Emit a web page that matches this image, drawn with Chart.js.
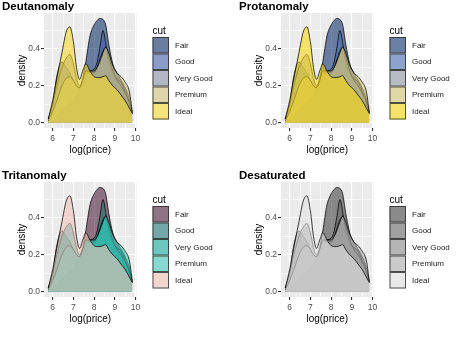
<!DOCTYPE html>
<html>
<head>
<meta charset="utf-8">
<script src="https://cdn.jsdelivr.net/npm/chart.js@4/dist/chart.umd.min.js"></script>
<style>
  html, body { margin: 0; padding: 0; background: #ffffff; }
  #grade { display: grid; grid-template-columns: 237px 237px; grid-template-rows: 169px 169px; width: 474px; height: 338px; }
  canvas { display: block; }
</style>
</head>
<body>
<div id="grade">
  <div><canvas id="g0" width="237" height="169"></canvas></div>
  <div><canvas id="g1" width="237" height="169"></canvas></div>
  <div><canvas id="g2" width="237" height="169"></canvas></div>
  <div><canvas id="g3" width="237" height="169"></canvas></div>
</div>
<script>
// dados (densidade de log(price) por cut)
const logPreco = [5.79, 6.0, 6.2, 6.45, 6.65, 6.83, 7.0, 7.15, 7.3, 7.45, 7.6, 7.8, 8.0, 8.15, 8.27, 8.43, 8.56, 8.7, 8.9, 9.1, 9.3, 9.5, 9.7, 9.84];
const cortes = ['Fair', 'Good', 'Very Good', 'Premium', 'Ideal'];
const densFair      = [0.00, 0.02, 0.04, 0.07, 0.09, 0.11, 0.13, 0.15, 0.18, 0.24, 0.33, 0.47, 0.53, 0.555, 0.565, 0.56, 0.53, 0.43, 0.32, 0.27, 0.23, 0.19, 0.13, 0.05];
const densGood      = [0.02, 0.10, 0.25, 0.33, 0.30, 0.27, 0.23, 0.20, 0.19, 0.21, 0.25, 0.28, 0.29, 0.33, 0.40, 0.50, 0.43, 0.33, 0.27, 0.24, 0.22, 0.17, 0.11, 0.06];
const densVeryGood  = [0.02, 0.10, 0.20, 0.30, 0.35, 0.37, 0.32, 0.24, 0.20, 0.23, 0.27, 0.27, 0.27, 0.30, 0.34, 0.39, 0.41, 0.36, 0.28, 0.23, 0.20, 0.16, 0.11, 0.05];
const densPremium   = [0.01, 0.06, 0.12, 0.20, 0.24, 0.25, 0.23, 0.20, 0.19, 0.23, 0.28, 0.28, 0.28, 0.30, 0.33, 0.38, 0.41, 0.38, 0.31, 0.27, 0.25, 0.22, 0.17, 0.06];
const densIdeal     = [0.02, 0.12, 0.24, 0.38, 0.49, 0.52, 0.44, 0.30, 0.235, 0.28, 0.32, 0.28, 0.25, 0.245, 0.245, 0.25, 0.255, 0.23, 0.20, 0.18, 0.15, 0.12, 0.08, 0.05];
const densidades = [densFair, densGood, densVeryGood, densPremium, densIdeal];

const ticksX = [6, 6.5, 7, 7.5, 8, 8.5, 9, 9.5, 10];
const ticksY = [0, 0.1, 0.2, 0.3, 0.4, 0.5];
const titulos = ['Deutanomaly', 'Protanomaly', 'Tritanomaly', 'Desaturated'];

// cores de cada painel (simulacao de daltonismo)
const coresPainel = [
  ['#0f306c', '#4563ae', '#898ea5', '#cfc37d', '#f7db2d'],
  ['#123470', '#4b6eb3', '#9396a4', '#d4c773', '#f9d910'],
  ['#4d203b', '#1f7474', '#10aa9f', '#3ec8b6', '#f0c3b8'],
  ['#454545', '#696969', '#8c8c8c', '#afafaf', '#e1e1e1']
];

const fonte = '"Liberation Sans", Arial, sans-serif';
const alfa = 0.6;

function rgba(hex, a) {
  const r = parseInt(hex.slice(1, 3), 16);
  const g = parseInt(hex.slice(3, 5), 16);
  const b = parseInt(hex.slice(5, 7), 16);
  return `rgba(${r},${g},${b},${a})`;
}

// fundo cinza do painel
const fundoPainel = {
  id: 'fundoPainel',
  beforeDraw(chart) {
    const a = chart.chartArea;
    const ctx = chart.ctx;
    ctx.save();
    ctx.fillStyle = '#EBEBEB';
    ctx.fillRect(a.left, a.top, a.right - a.left, a.bottom - a.top);
    ctx.restore();
  }
};

// legenda no estilo do ggplot
const legendaGG = {
  id: 'legendaGG',
  afterDraw(chart) {
    const ctx = chart.ctx;
    const x0 = 152.5, y0 = 37, lado = 16.5;
    ctx.save();
    ctx.textAlign = 'left';
    ctx.textBaseline = 'alphabetic';
    ctx.font = '10px ' + fonte;
    ctx.fillStyle = '#000000';
    ctx.fillText('cut', x0, 33.5);
    chart.data.datasets.forEach(function (ds, i) {
      const y = y0 + i * lado;
      ctx.fillStyle = '#F2F2F2';
      ctx.fillRect(x0, y, lado, lado);
      ctx.fillStyle = ds.backgroundColor;
      ctx.fillRect(x0, y, lado, lado);
      ctx.strokeStyle = 'rgba(40,40,40,0.8)';
      ctx.lineWidth = 1;
      ctx.strokeRect(x0 + 0.5, y + 0.5, lado - 1, lado - 1);
      ctx.font = '8px ' + fonte;
      ctx.fillStyle = '#1A1A1A';
      ctx.textBaseline = 'middle';
      ctx.fillText(ds.label, x0 + 22.5, y + lado / 2 + 0.5);
    });
    ctx.restore();
  }
};

function ehMaiorX(v) { return Number.isInteger(v); }
function ehMaiorY(v) { return Math.round(v * 10) % 2 === 0; }

function plotarPainel(idx) {
  const cores = coresPainel[idx];

  let datasets = [];
  for (let i = 0; i < cortes.length; i++) {
    datasets.push({
      label: cortes[i],
      data: logPreco.map((x, j) => ({ x: x, y: densidades[i][j] })),
      fill: 'origin',
      backgroundColor: rgba(cores[i], alfa),
      borderColor: 'rgba(0,0,0,0.75)',
      borderWidth: 1,
      pointRadius: 0,
      cubicInterpolationMode: 'monotone',
      order: cortes.length - i
    });
  }

  const config = {
    type: 'line',
    data: { datasets: datasets },
    options: {
      responsive: false,
      animation: false,
      events: [],
      layout: { padding: { left: 2, right: 100.5, top: 0, bottom: 0 } },
      plugins: {
        legend: { display: false },
        tooltip: { enabled: false },
        title: {
          display: true,
          text: titulos[idx],
          align: 'start',
          color: '#000000',
          font: { family: fonte, size: 11.5, weight: 'bold', lineHeight: 1.0 },
          padding: { top: 1.5, bottom: 0 }
        }
      },
      scales: {
        x: {
          type: 'linear',
          min: 5.583,
          max: 10.046,
          afterBuildTicks: function (s) { s.ticks = ticksX.map(v => ({ value: v })); },
          afterFit: function (s) { s.height = 41; },
          border: { display: false },
          grid: {
            color: '#FFFFFF',
            lineWidth: c => (c.tick && ehMaiorX(c.tick.value)) ? 1.1 : 0.55,
            tickColor: c => (c.tick && ehMaiorX(c.tick.value)) ? '#333333' : 'rgba(0,0,0,0)',
            tickLength: 3
          },
          ticks: {
            autoSkip: false,
            maxRotation: 0,
            padding: 3,
            color: '#4D4D4D',
            font: { family: fonte, size: 8.5 },
            callback: v => ehMaiorX(v) ? String(v) : ''
          },
          title: {
            display: true,
            text: 'log(price)',
            color: '#000000',
            font: { family: fonte, size: 10, lineHeight: 1.2 },
            padding: { top: 0, bottom: 13 }
          }
        },
        y: {
          type: 'linear',
          min: -0.0284,
          max: 0.595,
          afterBuildTicks: function (s) { s.ticks = ticksY.map(v => ({ value: v })); },
          afterFit: function (s) { s.width = 42; },
          border: { display: false },
          grid: {
            color: '#FFFFFF',
            lineWidth: c => (c.tick && ehMaiorY(c.tick.value)) ? 1.1 : 0.55,
            tickColor: c => (c.tick && ehMaiorY(c.tick.value)) ? '#333333' : 'rgba(0,0,0,0)',
            tickLength: 3
          },
          ticks: {
            autoSkip: false,
            padding: 1,
            color: '#4D4D4D',
            font: { family: fonte, size: 8.5 },
            callback: v => ehMaiorY(v) ? v.toFixed(1) : ''
          },
          title: {
            display: true,
            text: 'density',
            color: '#000000',
            font: { family: fonte, size: 10, lineHeight: 1.2 },
            padding: { top: 14, bottom: 0 }
          }
        }
      }
    },
    plugins: [fundoPainel, legendaGG]
  };

  new Chart(document.getElementById('g' + idx), config);
}

for (let k = 0; k < titulos.length; k++) {
  plotarPainel(k);
}
</script>
</body>
</html>
